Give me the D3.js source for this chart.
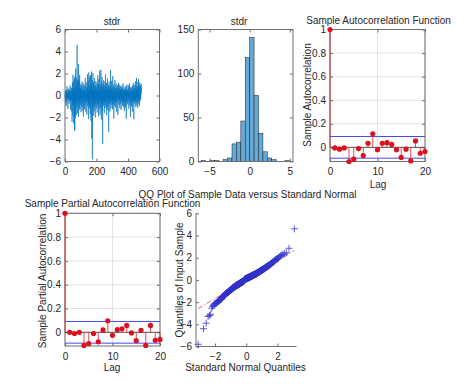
<!DOCTYPE html>
<html>
<head>
<meta charset="utf-8">
<script src="https://cdn.jsdelivr.net/npm/d3@7"></script>
<style>
body { margin: 0; background: #fff; }
svg text { font-family: "Liberation Sans", Arial, sans-serif; fill: #262626; }
</style>
</head>
<body>
<svg id="chart" width="474" height="389"></svg>
<script>
// standardized residuals
var stdr = [
 0.12,-0.25,0.38,-0.61,0.05,0.44,-0.18,-0.95,0.52,0.21,-0.33,-0.04,0.83,-0.47,0.16,-0.12,0.29,-1.21,0.47,0.08,
 -0.21,0.62,-0.38,0.17,0.34,-0.74,0.09,0.51,-0.15,-0.52,0.26,0.91,-0.31,0.14,-1.28,0.43,0.02,-0.44,0.68,0.19,
 -0.36,0.27,-1.45,0.73,-2.4,0.35,1.18,-0.66,0.48,-1.85,1.9,0.22,-0.91,-0.42,1.32,-2.55,0.64,-0.13,1.52,-3.1,
 0.41,-3.2,1.72,-0.58,0.31,-2.05,2.45,-1.12,0.18,-0.72,0.95,-1.78,0.52,1.62,-0.39,1.05,4.6,-0.94,0.24,1.35,
 -1.62,0.78,-0.29,1.25,-1.95,2.85,-0.47,0.08,-1.15,1.45,0.33,-0.63,1.88,-1.31,0.55,-0.17,1.02,-0.86,0.39,-0.22,
 0.66,-1.52,0.15,0.88,-0.45,0.32,-1.05,1.28,-0.26,0.07,-0.71,0.58,-1.38,0.21,1.12,-0.33,-1.92,0.49,0.13,-0.54,
 0.97,-0.14,0.42,-1.24,0.76,-0.08,0.27,-0.83,1.58,-0.41,0.16,-1.47,0.53,1.19,-0.62,0.04,-0.23,0.81,-1.72,0.36,
 0.59,-0.48,1.95,-0.97,0.23,-0.16,1.36,-0.77,0.44,-2.15,2.1,0.06,-0.57,0.87,-1.18,0.31,1.7,-0.35,-0.89,0.48,
 -1.68,1.85,-0.24,0.69,-2.3,1.08,-0.43,2.2,-1.26,-3.9,0.74,-0.11,1.42,-5.8,0.37,-0.99,2.05,-0.52,0.25,-1.83,
 1.22,-0.68,0.14,0.94,-1.41,0.45,-0.27,1.6,-1.02,0.57,-0.06,-2.0,0.86,0.28,-0.75,1.3,-0.36,0.5,-1.15,0.17,
 0.79,-0.4,1.1,-1.55,0.34,0.09,-0.69,1.82,-0.88,0.51,-0.2,1.03,-1.9,0.43,1.48,-0.5,0.19,-1.22,0.67,2.25,
 -0.59,0.36,-1.74,0.92,-0.15,0.61,-1.06,2.35,-0.32,0.24,-2.2,1.2,-0.78,0.46,1.68,-0.25,-1.4,0.54,-4.4,1.05,
 -0.42,0.8,-0.96,0.26,1.38,-0.66,0.15,-0.3,0.89,-1.6,0.52,0.03,-0.61,1.27,-1.13,0.35,1.92,-0.49,0.18,-0.85,
 0.7,-0.21,1.15,-1.8,0.41,-0.07,0.77,-1.33,0.27,1.55,-0.58,0.14,-1.02,0.53,-0.34,0.96,-3.3,0.6,-0.12,1.24,
 -0.79,0.33,-0.24,0.86,-1.46,0.5,0.11,-0.67,2.3,-0.44,0.22,-1.17,0.68,-0.05,1.34,-0.53,0.16,-0.87,0.74,-0.29,
 0.42,-1.25,1.76,-0.14,0.25,-0.8,1.02,-0.5,0.07,-2.1,0.6,0.31,-0.39,0.84,-0.92,0.13,1.4,-0.6,-0.22,0.66,
 -1.08,0.4,0.05,-0.47,1.1,-0.23,0.32,-1.5,0.72,-0.14,0.5,-0.65,0.93,0.17,-0.38,-1.75,0.58,0.02,-0.3,1.16,
 -0.48,0.24,-0.85,0.66,0.08,-0.37,0.98,-1.14,0.33,-0.16,0.47,-0.73,0.82,-0.21,0.15,-1.3,0.56,0.3,-0.46,0.9,
 -0.31,0.14,-0.64,0.71,-0.94,0.39,0.01,-0.2,1.08,-0.55,0.23,-1.03,0.49,0.06,-0.35,0.63,-1.42,0.32,-0.12,0.54,
 -0.7,0.85,-0.28,0.21,-1.1,0.46,-0.04,0.75,-2.1,0.4,-0.47,0.13,0.99,-0.62,0.3,-0.19,0.55,-0.82,0.05,0.37,
 -0.4,0.93,-0.13,0.29,-1.2,0.64,0.0,-0.56,1.12,-0.22,0.12,-0.9,0.45,0.73,-0.3,-1.95,0.36,0.2,-0.63,0.8,
 -0.2,0.47,-1.0,0.15,0.62,-0.45,0.28,-1.48,0.9,-0.06,0.38,-0.7,0.22,1.15,-0.37,0.07,-2.15,0.51,-0.28,0.7,
 -0.55,0.24,0.97,-0.82,0.4,-0.11,1.3,-0.46,0.16,-1.05,0.7,0.3,-0.6,1.6,-0.22,0.48,-0.88,0.1,0.85,-0.36,
 0.57,-1.12,1.25,-0.15,0.31,-0.72,1.5,0.06,-0.44,0.95,-0.3,0.63,-0.95,0.2,1.18,-0.53,0.39,-0.05,0.88,0.21,
 -0.35,0.74,0.12,1.05,0.45
];

// histogram of stdr (bin lower edges and counts)
var binWidth = 0.55;
var binEdges = [-6.05,-5.5,-4.95,-4.4,-3.85,-3.3,-2.75,-2.2,-1.65,-1.1,-0.55,0,0.55,1.1,1.65,2.2,2.75,3.3,3.85,4.4];
var binCounts = [1,0,1,1,0,2,4,20,22,46,118,141,75,32,11,4,2,0,0,1];

// sample ACF / PACF
var lags = [0,1,2,3,4,5,6,7,8,9,10,11,12,13,14,15,16,17,18,19,20];
var acf = [1,-0.005,-0.015,-0.005,-0.12,-0.1,-0.01,-0.07,0.035,0.115,-0.02,0.035,0.04,0.025,-0.02,-0.085,-0.015,-0.115,0.055,-0.05,-0.035];
var pacf = [1,0,-0.01,0,-0.11,-0.095,-0.01,-0.08,0.02,0.097,-0.025,0.022,0.03,0.058,-0.005,-0.07,0.017,-0.11,0.058,-0.067,-0.06];
var acfBound = 0.092;
var pacfBound = 0.091;

var svg = d3.select("#chart");
var axisColor = "#6f6f6f";

function styleAxis(g) {
	g.attr("font-family", null).attr("font-size", 10);
	g.select(".domain").remove();
	g.selectAll(".tick line").attr("stroke", axisColor);
	g.selectAll(".tick text").attr("fill", "#262626");
}

// draws ticks, labels, optional grid and box for one panel
function panel(x, y, xt, yt, opts) {
	var g = svg.append("g");
	var xl = x.range()[0], xr = x.range()[1], yb = y.range()[0], ytop = y.range()[1];
	if (opts.grid) {
		g.selectAll(".gx").data(xt).enter().append("line")
			.attr("x1", function(d) { return x(d) }).attr("x2", function(d) { return x(d) })
			.attr("y1", yb).attr("y2", ytop)
			.attr("stroke", "#e4e4e4");
		g.selectAll(".gy").data(yt).enter().append("line")
			.attr("x1", xl).attr("x2", xr)
			.attr("y1", function(d) { return y(d) }).attr("y2", function(d) { return y(d) })
			.attr("stroke", "#e4e4e4");
	}
	g.append("g").attr("transform", "translate(0," + yb + ")")
		.call(d3.axisBottom(x).tickValues(xt).tickSize(-3).tickSizeOuter(0).tickPadding(6.5)
			.tickFormat(opts.xf || d3.format("")))
		.call(styleAxis);
	g.append("g").attr("transform", "translate(" + xl + ",0)")
		.call(d3.axisLeft(y).tickValues(yt).tickSize(-3).tickSizeOuter(0).tickPadding(4)
			.tickFormat(opts.yf || d3.format("")))
		.call(styleAxis);
	if (opts.box) {
		g.append("g").attr("transform", "translate(0," + ytop + ")")
			.call(d3.axisTop(x).tickValues(xt).tickSize(-3).tickSizeOuter(0).tickFormat(""))
			.call(styleAxis);
		g.append("g").attr("transform", "translate(" + xr + ",0)")
			.call(d3.axisRight(y).tickValues(yt).tickSize(-3).tickSizeOuter(0).tickFormat(""))
			.call(styleAxis);
		g.append("rect").attr("x", xl).attr("y", ytop).attr("width", xr - xl).attr("height", yb - ytop)
			.attr("fill", "none").attr("stroke", axisColor).attr("stroke-width", 1);
	} else {
		g.append("line").attr("x1", xl).attr("x2", xl).attr("y1", yb).attr("y2", ytop).attr("stroke", axisColor);
		g.append("line").attr("x1", xl).attr("x2", xr).attr("y1", yb).attr("y2", yb).attr("stroke", axisColor);
	}
	return g;
}

function label(txt, px, py, rot) {
	svg.append("text").attr("text-anchor", "middle").attr("font-size", 10)
		.attr("transform", "translate(" + px + "," + py + ")" + (rot ? " rotate(-90)" : ""))
		.text(txt);
}

// ---- panel 1: time series
var x1 = d3.scaleLinear().domain([0, 600]).range([65, 159.5]);
var y1 = d3.scaleLinear().domain([-6, 6]).range([161.5, 29.5]);
panel(x1, y1, [0, 200, 400, 600], [-6, -4, -2, 0, 2, 4, 6], {box: true});
svg.append("path").datum(stdr)
	.attr("fill", "none").attr("stroke", "#0072bd").attr("stroke-width", 0.6)
	.attr("d", d3.line().x(function(d, i) { return x1(i + 1) }).y(function(d) { return y1(d) }));
label("stdr", 112, 24.5);

// ---- panel 2: histogram
var x2 = d3.scaleLinear().domain([-6.4, 5.4]).range([198.3, 293]);
var y2 = d3.scaleLinear().domain([0, 150]).range([161.5, 29.5]);
var bins = binEdges.map(function(e, i) { return {x0: e, n: binCounts[i]} }).filter(function(b) { return b.n > 0 });
svg.append("g").selectAll("rect").data(bins).enter().append("rect")
	.attr("x", function(d) { return x2(d.x0) })
	.attr("width", function(d) { return x2(d.x0 + binWidth) - x2(d.x0) })
	.attr("y", function(d) { return y2(d.n) })
	.attr("height", function(d) { return y2(0) - y2(d.n) })
	.attr("fill", "#64a9d8").attr("stroke", "#1a1a1a").attr("stroke-width", 0.5);
panel(x2, y2, [-5, 0, 5], [0, 50, 100, 150], {box: true});
label("stdr", 239, 24.5);

// stem plot used for ACF and PACF
function stems(x, y, vals, bound) {
	var g = svg.append("g");
	g.selectAll(".b").data([bound, -bound]).enter().append("line")
		.attr("x1", x(0)).attr("x2", x(20))
		.attr("y1", function(d) { return y(d) }).attr("y2", function(d) { return y(d) })
		.attr("stroke", "#4a4ae8").attr("stroke-width", 1);
	g.append("line").attr("x1", x(0)).attr("x2", x(20)).attr("y1", y(0)).attr("y2", y(0))
		.attr("stroke", "#3a2a2a").attr("stroke-width", 0.8);
	g.selectAll(".s").data(vals).enter().append("line")
		.attr("x1", function(d, i) { return x(lags[i]) }).attr("x2", function(d, i) { return x(lags[i]) })
		.attr("y1", y(0)).attr("y2", function(d) { return y(d) })
		.attr("stroke", "#d9262c").attr("stroke-width", 0.8);
	g.selectAll("circle").data(vals).enter().append("circle")
		.attr("cx", function(d, i) { return x(lags[i]) }).attr("cy", function(d) { return y(d) })
		.attr("r", 2.6).attr("fill", "#dd1020");
}

// ---- panel 3: ACF
var x3 = d3.scaleLinear().domain([0, 20]).range([330, 425]);
var y3 = d3.scaleLinear().domain([-0.12, 1]).range([161.5, 29.5]);
panel(x3, y3, [0, 10, 20], [0, 0.2, 0.4, 0.6, 0.8, 1], {box: true, grid: true});
stems(x3, y3, acf, acfBound);
label("Sample Autocorrelation Function", 378.5, 23.5);
label("Sample Autocorrelation", 311, 95, true);
label("Lag", 378, 188);

// ---- panel 4: PACF
var x4 = d3.scaleLinear().domain([0, 20]).range([65, 160]);
var y4 = d3.scaleLinear().domain([-0.115, 1]).range([346, 213.3]);
panel(x4, y4, [0, 10, 20], [0, 0.2, 0.4, 0.6, 0.8, 1], {box: true, grid: true});
stems(x4, y4, pacf, pacfBound);
label("Sample Partial Autocorrelation Function", 112.5, 207);
label("Sample Partial Autocorrelation", 46, 281, true);
label("Lag", 112, 370.5);

// ---- panel 5: QQ plot
function probit(p) {
	var a = [-39.69683028665376, 220.9460984245205, -275.9285104469687, 138.3577518672690, -30.66479806614716, 2.506628277459239];
	var b = [-54.47609879822406, 161.5858368580409, -155.6989798598866, 66.80131188771972, -13.28068155288572];
	var c = [-0.007784894002430293, -0.3223964580411365, -2.400758277161838, -2.549732539343734, 4.374664141464968, 2.938163982698783];
	var d = [0.007784695709041462, 0.3224671290700398, 2.445134137142996, 3.754408661907416];
	var q, r;
	if (p < 0.02425 || p > 0.97575) {
		q = Math.sqrt(-2 * Math.log(p < 0.5 ? p : 1 - p));
		r = (((((c[0] * q + c[1]) * q + c[2]) * q + c[3]) * q + c[4]) * q + c[5]) / ((((d[0] * q + d[1]) * q + d[2]) * q + d[3]) * q + 1);
		return p < 0.5 ? r : -r;
	}
	q = p - 0.5; r = q * q;
	return (((((a[0] * r + a[1]) * r + a[2]) * r + a[3]) * r + a[4]) * r + a[5]) * q /
		(((((b[0] * r + b[1]) * r + b[2]) * r + b[3]) * r + b[4]) * r + 1);
}

var sorted = stdr.slice().sort(d3.ascending);
var qq = sorted.map(function(v, i) { return {t: probit((i + 0.5) / sorted.length), v: v} });
var x5 = d3.scaleLinear().domain([-3.22, 3.22]).range([196, 296.5]);
var y5 = d3.scaleLinear().domain([-6, 6]).range([346.5, 213.3]);
panel(x5, y5, [-2, 0, 2], [-6, -4, -2, 0, 2, 4, 6], {box: false});

var q1 = d3.quantile(sorted, 0.25), q3 = d3.quantile(sorted, 0.75);
var slope = (q3 - q1) / (2 * 0.6745), mid = (q1 + q3) / 2;
var tExt = d3.extent(qq, function(d) { return d.t });
svg.append("line")
	.attr("x1", x5(tExt[0])).attr("y1", y5(mid + slope * tExt[0]))
	.attr("x2", x5(tExt[1])).attr("y2", y5(mid + slope * tExt[1]))
	.attr("stroke", "#d0403a").attr("stroke-width", 0.8).attr("stroke-dasharray", "5,2,1,2");
svg.append("g").selectAll("path").data(qq).enter().append("path")
	.attr("transform", function(d) { return "translate(" + x5(d.t) + "," + y5(d.v) + ")" })
	.attr("d", "M-3.5,0H3.5M0,-3.5V3.5")
	.attr("stroke", "#3535cc").attr("stroke-width", 0.8).attr("fill", "none");
label("QQ Plot of Sample Data versus Standard Normal", 247.5, 198);
label("Quantiles of Input Sample", 183, 280, true);
label("Standard Normal Quantiles", 245.5, 370.5);
</script>
</body>
</html>
